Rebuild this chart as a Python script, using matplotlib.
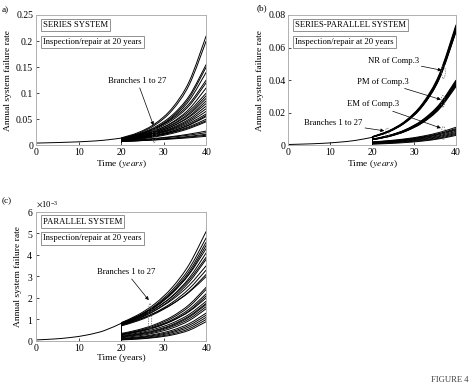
import matplotlib
matplotlib.use("Agg")
import matplotlib.pyplot as plt
from matplotlib.patches import Ellipse, PathPatch
from matplotlib.path import Path
from matplotlib.ticker import ScalarFormatter

plt.rcParams['font.family'] = ['Liberation Serif', 'DejaVu Serif']
plt.rcParams['mathtext.fontset'] = 'stix'

# time grid of the tabulated values
t_before = [0, 4, 8, 12, 16, 20]
t_after = [20, 24, 28, 32, 36, 40]

# (a) series system
base_a = [0.004, 0.0048, 0.0058, 0.0072, 0.0095, 0.0135]
branches_a = [
    [.014, .0241, .0414, .0711, .1222, .210],
    [.013, .0225, .0388, .0670, .1158, .200],
    [.013, .0213, .0350, .0575, .0944, .155],
    [.012, .0199, .0330, .0546, .0905, .150],
    [.012, .0196, .0321, .0524, .0857, .140],
    [.013, .0204, .0321, .0505, .0795, .125],
    [.012, .0190, .0301, .0478, .0757, .120],
    [.011, .0174, .0276, .0438, .0694, .110],
    [.012, .0183, .0280, .0428, .0654, .100],
    [.011, .0169, .0261, .0401, .0617, .095],
    [.011, .0167, .0255, .0388, .0591, .090],
    [.010, .0153, .0235, .0361, .0554, .085],
    [.011, .0164, .0243, .0362, .0538, .080],
    [.010, .0150, .0224, .0335, .0501, .075],
    [.010, .0148, .0218, .0321, .0474, .070],
    [.010, .0145, .0212, .0308, .0447, .065],
    [.010, .0143, .0205, .0293, .0419, .060],
    [.009, .0130, .0188, .0272, .0394, .057],
    [.009, .0129, .0186, .0267, .0383, .055],
    [.009, .0127, .0179, .0252, .0355, .050],
    [.009, .0125, .0174, .0243, .0338, .047],
    [.008, .0113, .0160, .0225, .0319, .045],
    [.008, .0102, .0130, .0166, .0212, .027],
    [.008, .0100, .0124, .0155, .0193, .024],
    [.007, .0087, .0109, .0135, .0169, .021],
    [.007, .0085, .0104, .0127, .0156, .019],
    [.007, .0084, .0100, .0119, .0142, .017],
]

# (b) series-parallel system
base_b = [0.0004, 0.0007, 0.0011, 0.0018, 0.0029, 0.0048]
nr_b = [
    [.0052, .0089, .0151, .0256, .0435, .0740],
    [.0051, .0087, .0148, .0252, .0428, .0730],
    [.0050, .0086, .0146, .0249, .0424, .0725],
    [.0050, .0085, .0145, .0247, .0421, .0720],
    [.0049, .0084, .0144, .0245, .0418, .0715],
    [.0049, .0084, .0143, .0243, .0414, .0710],
    [.0048, .0082, .0141, .0241, .0411, .0705],
    [.0050, .0085, .0144, .0243, .0411, .0700],
    [.0048, .0082, .0140, .0238, .0405, .0695],
]
pm_b = [
    [.0037, .0060, .0096, .0155, .0250, .0400],
    [.0036, .0058, .0094, .0152, .0245, .0395],
    [.0036, .0058, .0093, .0150, .0242, .0390],
    [.0035, .0057, .0092, .0148, .0239, .0385],
    [.0035, .0056, .0091, .0146, .0236, .0380],
    [.0034, .0055, .0089, .0144, .0232, .0375],
    [.0034, .0055, .0088, .0142, .0229, .0370],
    [.0033, .0053, .0086, .0139, .0225, .0365],
    [.0033, .0053, .0085, .0137, .0221, .0360],
]
em_b = [
    [.0020, .0028, .0039, .0055, .0078, .0110],
    [.0018, .0026, .0036, .0051, .0072, .0102],
    [.0017, .0024, .0034, .0048, .0068, .0097],
    [.0016, .0023, .0032, .0045, .0064, .0092],
    [.0014, .0020, .0029, .0041, .0058, .0085],
    [.0012, .0018, .0026, .0037, .0053, .0078],
    [.0010, .0015, .0023, .0033, .0048, .0072],
    [.0008, .0013, .0020, .0029, .0043, .0066],
    [.0006, .0010, .0016, .0025, .0039, .0060],
]

# (c) parallel system
base_c = [0.05e-3, 0.09e-3, 0.16e-3, 0.28e-3, 0.48e-3, 0.82e-3]
branches_c_1e3 = [
    [.85, 1.22, 1.74, 2.49, 3.56, 5.1],
    [.82, 1.17, 1.66, 2.37, 3.37, 4.8],
    [.80, 1.14, 1.61, 2.29, 3.24, 4.6],
    [.78, 1.11, 1.57, 2.22, 3.14, 4.45],
    [.84, 1.16, 1.61, 2.24, 3.10, 4.3],
    [.76, 1.06, 1.49, 2.09, 2.93, 4.1],
    [.80, 1.10, 1.51, 2.07, 2.84, 3.9],
    [.74, 1.03, 1.42, 1.98, 2.74, 3.8],
    [.78, 1.05, 1.42, 1.92, 2.59, 3.5],
    [.72, .98, 1.32, 1.79, 2.43, 3.3],
    [.70, .94, 1.27, 1.71, 2.30, 3.1],
    [.75, .99, 1.31, 1.72, 2.27, 3.0],
    [.35, .52, .77, 1.14, 1.69, 2.5],
    [.32, .48, .72, 1.07, 1.60, 2.4],
    [.30, .45, .67, .99, 1.48, 2.2],
    [.28, .42, .63, .94, 1.40, 2.1],
    [.30, .44, .64, .94, 1.37, 2.0],
    [.25, .37, .56, .83, 1.24, 1.85],
    [.22, .33, .50, .76, 1.16, 1.75],
    [.20, .31, .47, .72, 1.11, 1.7],
    [.18, .28, .43, .67, 1.03, 1.6],
    [.15, .24, .38, .60, .95, 1.5],
    [.12, .19, .31, .50, .81, 1.3],
    [.10, .16, .27, .44, .73, 1.2],
    [.08, .14, .23, .39, .65, 1.1],
    [.06, .11, .19, .33, .57, 1.0],
    [.05, .09, .16, .28, .50, .9],
]
branches_c = [[v * 1e-3 for v in row] for row in branches_c_1e3]

LW = 0.7
FS_TICK = 7
FS_TXT = 6.2


def smooth_line(ax, xs, ys):
    # draw the tabulated points as a smooth curve (Catmull-Rom -> cubic Bezier)
    pts = list(zip(xs, ys))
    verts = [pts[0]]
    codes = [Path.MOVETO]
    n = len(pts)
    for i in range(n - 1):
        p0 = pts[i - 1] if i > 0 else pts[i]
        p1, p2 = pts[i], pts[i + 1]
        p3 = pts[i + 2] if i + 2 < n else pts[i + 1]
        c1 = (p1[0] + (p2[0] - p0[0]) / 6, p1[1] + (p2[1] - p0[1]) / 6)
        c2 = (p2[0] - (p3[0] - p1[0]) / 6, p2[1] - (p3[1] - p1[1]) / 6)
        verts += [c1, c2, p2]
        codes += [Path.CURVE4] * 3
    ax.add_patch(PathPatch(Path(verts, codes), fill=False, ec='black', lw=LW))


def draw(ax, base, branches):
    smooth_line(ax, t_before, base)
    for row in branches:
        # each branch leaves the base curve at t = 20
        ax.plot([20, 20], [base[-1], row[0]], color='black', lw=LW)
        smooth_line(ax, t_after, row)


def style(ax, ymax, yticks, title, italic=True):
    ax.set_xlim(0, 40)
    ax.set_ylim(0, ymax)
    ax.set_xticks([0, 10, 20, 30, 40])
    ax.set_yticks(yticks)
    ax.tick_params(direction='in', length=2, width=0.5, labelsize=FS_TICK, pad=2)
    for s in ax.spines.values():
        s.set_color('#b0b0b0')
        s.set_linewidth(0.7)
    ax.set_ylabel('Annual system failure rate', fontsize=6.8, labelpad=3)
    if italic:
        ax.set_xlabel('Time ($\\it{years}$)', fontsize=6.8, labelpad=1)
    else:
        ax.set_xlabel('Time (years)', fontsize=6.8, labelpad=1)
    box = dict(boxstyle='square,pad=0.25', fc='white', ec='#909090', lw=0.7)
    ax.text(0.04, 0.925, title, transform=ax.transAxes, fontsize=FS_TXT,
            va='center', bbox=box)
    ax.text(0.04, 0.795, 'Inspection/repair at 20 years', transform=ax.transAxes,
            fontsize=FS_TXT, va='center', bbox=box)


def note(ax, text, xy, xytext, ell):
    ax.annotate(text, xy=xy, xytext=xytext, fontsize=FS_TXT, ha='center', va='center',
                arrowprops=dict(arrowstyle='-|>', color='black', lw=0.5,
                                mutation_scale=5, shrinkA=0, shrinkB=0))
    ax.add_patch(Ellipse(ell[0], ell[1], ell[2], fill=False, ls=(0, (2, 1.5)),
                         lw=0.5, ec='#606060'))


fig = plt.figure(figsize=(4.74, 3.84), dpi=100)

ax_a = fig.add_axes([0.076, 0.622, 0.359, 0.339])
draw(ax_a, base_a, branches_a)
style(ax_a, 0.25, [0, 0.05, 0.1, 0.15, 0.2, 0.25], 'SERIES SYSTEM')
ax_a.set_yticklabels(['0', '0.05', '0.1', '0.15', '0.2', '0.25'])
note(ax_a, 'Branches 1 to 27', (27.6, 0.038), (23.8, 0.123), ((27.8, 0.02), 0.9, 0.03))

ax_b = fig.add_axes([0.608, 0.622, 0.354, 0.339])
draw(ax_b, base_b, nr_b + pm_b + em_b)
style(ax_b, 0.08, [0, 0.02, 0.04, 0.06, 0.08], 'SERIES-PARALLEL SYSTEM')
ax_b.set_yticklabels(['0', '0.02', '0.04', '0.06', '0.08'])
note(ax_b, 'NR of Comp.3', (36.6, 0.046), (25.0, 0.052), ((37.0, 0.045), 0.9, 0.008))
note(ax_b, 'PM of Comp.3', (36.4, 0.028), (22.5, 0.039), ((36.9, 0.027), 0.9, 0.007))
note(ax_b, 'EM of Comp.3', (36.4, 0.0105), (20.3, 0.025), ((37.0, 0.0075), 0.9, 0.008))
note(ax_b, 'Branches 1 to 27', (22.9, 0.0088), (10.7, 0.0135), ((23.6, 0.0075), 0.9, 0.006))

ax_c = fig.add_axes([0.076, 0.112, 0.359, 0.336])
draw(ax_c, base_c, branches_c)
style(ax_c, 6e-3, [0, 1e-3, 2e-3, 3e-3, 4e-3, 5e-3, 6e-3], 'PARALLEL SYSTEM', italic=False)
fmt = ScalarFormatter(useMathText=True)
fmt.set_powerlimits((-2, 2))
ax_c.yaxis.set_major_formatter(fmt)
ax_c.yaxis.get_offset_text().set_fontsize(FS_TXT)
note(ax_c, 'Branches 1 to 27', (26.5, 1.9e-3), (21.2, 3.2e-3), ((26.8, 1.1e-3), 0.8, 1.3e-3))

fig.text(0.004, 0.985, 'a)', fontsize=FS_TXT + 0.5, va='top')
fig.text(0.542, 0.99, '(b)', fontsize=FS_TXT + 0.5, va='top')
fig.text(0.004, 0.487, '(c)', fontsize=FS_TXT + 0.5, va='top')
fig.text(0.91, 0.004, 'FIGURE 4', fontsize=FS_TXT, color='#404040')

fig.savefig('out.png', dpi=100)
